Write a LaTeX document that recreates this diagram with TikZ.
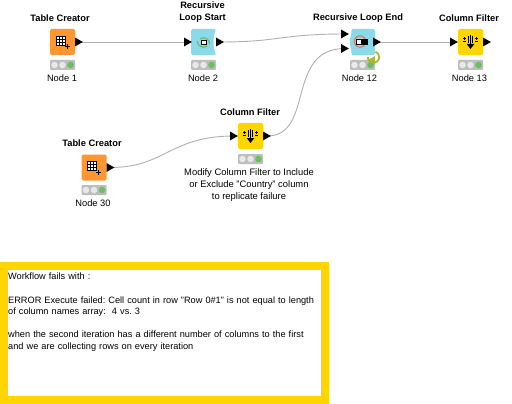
\documentclass[tikz,border=0pt]{standalone}
\usepackage{fontspec}
\setmainfont{Liberation Sans}
\usepackage{tikz}
\usetikzlibrary{arrows.meta, positioning, calc}
\definecolor{creatorcol}{HTML}{FF9632}
\definecolor{loopcol}{HTML}{8BDAEA}
\definecolor{filtercol}{HTML}{FFD500}
\definecolor{statuscol}{HTML}{BDBDBD}
\definecolor{lampcol}{HTML}{E8E8E8}
\definecolor{okcol}{HTML}{6CBF60}
\definecolor{wirecol}{HTML}{B0B0B0}
\definecolor{ringcol}{HTML}{E07070}
\definecolor{recursecol}{HTML}{A5BB35}
\tikzset{
  iconbox/.style={
    rectangle, rounded corners=1.5pt, minimum width=25pt, minimum height=26pt,
    inner sep=0pt, outer sep=0pt
  },
  statusbox/.style={
    rectangle, rounded corners=1pt, fill=statuscol, minimum width=25pt,
    minimum height=10pt, inner sep=0pt
  },
  lamp/.style={circle, fill=lampcol, minimum size=6.6pt, inner sep=0pt},
  lampok/.style={circle, fill=okcol, minimum size=6.6pt, inner sep=0pt},
  titlelabel/.style={
    font=\fontsize{9.3}{11.5}\selectfont\bfseries, align=center, inner sep=0pt
  },
  namelabel/.style={font=\fontsize{9.3}{11.5}\selectfont, inner sep=0pt},
  wire/.style={wirecol, line width=0.9pt},
  glyph/.style={black, line width=0.6pt},
}
\newcommand{\porttriangle}[1]{%
  \fill (#1) ++(-3.9,-4.4) -- ++(7.8,4.4) -- ++(-7.8,4.4) -- cycle;}
\begin{document}
\begin{tikzpicture}[x=1pt, y=-1pt]
  \useasboundingbox (0,0) rectangle (512,404);

  % ── Icons ──────────────────────────────────────────────────────
  \node[iconbox, fill=creatorcol] (creatorA) at (62.5, 42) {};
  \node[iconbox, fill=loopcol] (loopstart) at (203.5, 42) {};
  \node[iconbox, fill=loopcol] (loopend) at (362.5, 42) {};
  \node[iconbox, fill=filtercol] (filterB) at (470.5, 42) {};
  \node[iconbox, fill=filtercol] (filterA) at (250.5, 136) {};
  \node[iconbox, fill=creatorcol] (creatorB) at (94, 167.5) {};

  % notches of the loop icons
  \fill[white] (216.5,28.5) -- (216.5,55.5)
    .. controls (212.5,47) and (212.5,37) .. (216.5,28.5) -- cycle;
  \fill[white] (349.5,28.5) -- (352,28.5) -- (349.5,42) -- (352,55.5)
    -- (349.5,55.5) -- cycle;

  % ── Ports ──────────────────────────────────────────────────────
  \coordinate (creatorAout) at (79, 42);
  \coordinate (startin) at (188, 42);
  \coordinate (startout) at (220, 42);
  \coordinate (endinA) at (345, 34);
  \coordinate (endinB) at (345, 48.5);
  \coordinate (endout) at (377, 42);
  \coordinate (filterBin) at (454, 42);
  \coordinate (filterBout) at (487, 42);
  \coordinate (creatorBout) at (110.5, 167.5);
  \coordinate (filterAin) at (234, 136);
  \coordinate (filterAout) at (267, 136);

  % ── Connectors ─────────────────────────────────────────────────
  \draw[wire] (creatorAout) -- (startin);
  \draw[wire] (startout) .. controls (280,42) and (280,34) .. (endinA);
  \draw[wire] (endout) -- (filterBin);
  \draw[wire] (creatorBout) .. controls (165,167.5) and (170,136) .. (filterAin);
  \draw[wire] (filterAout) .. controls (315,136) and (285,48.5) .. (endinB);

  \foreach \portname in {creatorAout, startin, startout, endinA, endinB,
    endout, filterBin, filterBout, creatorBout, filterAin, filterAout}
    {\porttriangle{\portname}}

  % ── Status lights ──────────────────────────────────────────────
  \node[statusbox] (statusA) at (62.5, 65) {};
  \node[statusbox] (statusB) at (203.5, 65) {};
  \node[statusbox] (statusC) at (362.5, 65) {};
  \node[statusbox] (statusD) at (470.5, 65) {};
  \node[statusbox] (statusE) at (250.5, 159) {};
  \node[statusbox] (statusF) at (94, 190) {};
  \foreach \statusname in {statusA, statusB, statusC, statusD, statusE, statusF}{
    \node[lamp] at ($(\statusname)+(-8,0)$) {};
    \node[lamp] at (\statusname) {};
    \node[lampok] at ($(\statusname)+(8,0)$) {};
  }

  % ── Glyphs: table with plus ────────────────────────────────────
  \foreach \iconname in {creatorA, creatorB}{
    \draw[black, fill=white, line width=0.5pt]
      ($(\iconname)+(-6.5,-6)$) rectangle ($(\iconname)+(2.5,3)$);
    \draw[black, line width=0.45pt]
      ($(\iconname)+(-6.5,-3)$) -- ($(\iconname)+(2.5,-3)$)
      ($(\iconname)+(-6.5,0)$) -- ($(\iconname)+(2.5,0)$)
      ($(\iconname)+(-3.5,-6)$) -- ($(\iconname)+(-3.5,3)$)
      ($(\iconname)+(-0.5,-6)$) -- ($(\iconname)+(-0.5,3)$);
    \draw[black, line width=1pt]
      ($(\iconname)+(2,4.7)$) -- ($(\iconname)+(7,4.7)$)
      ($(\iconname)+(4.5,2.2)$) -- ($(\iconname)+(4.5,7.2)$);
  }

  % ── Glyphs: column filter ──────────────────────────────────────
  \foreach \iconname in {filterA, filterB}{
    \draw[glyph]
      ($(\iconname)+(-2.2,-6)$) -- ($(\iconname)+(-2.2,1)$)
      ($(\iconname)+(2.2,-6)$) -- ($(\iconname)+(2.2,1)$)
      ($(\iconname)+(-6,-5)$) -- ($(\iconname)+(-6,-1.5)$)
      ($(\iconname)+(6,-5)$) -- ($(\iconname)+(6,-1.5)$)
      ($(\iconname)+(-7.5,-3.2)$) -- ($(\iconname)+(-4.5,-3.2)$)
      ($(\iconname)+(-7.5,-0.5)$) -- ($(\iconname)+(-4.5,-0.5)$)
      ($(\iconname)+(4.5,-3.2)$) -- ($(\iconname)+(7.5,-3.2)$)
      ($(\iconname)+(4.5,-0.5)$) -- ($(\iconname)+(7.5,-0.5)$);
    \draw[black, line width=1pt] ($(\iconname)+(0,-6.5)$) -- ($(\iconname)+(0,3)$);
    \fill ($(\iconname)+(-3.8,2)$) -- ($(\iconname)+(3.8,2)$) -- ($(\iconname)+(0,7)$) -- cycle;
  }

  % ── Glyphs: loop icons ─────────────────────────────────────────
  \draw[okcol, line width=1.2pt] (197.3,41) arc[start angle=180, end angle=55, radius=6.2];
  \draw[okcol, line width=1.2pt] (209.7,44) arc[start angle=0, end angle=-125, radius=6.2];
  \draw[black, fill=white, line width=0.7pt] (201,40) rectangle (206,44.5);

  \draw[ringcol, line width=1.1pt] (360,41.5) circle[radius=5.7];
  \draw[black, fill=white, line width=0.6pt] (356,39) rectangle (361.5,44.5);
  \fill (361.5,38.7) rectangle (367.5,44.8);

  % loop arrow at the end node
  \draw[recursecol, line width=1.8pt]
    (367.8,57) arc[start angle=180, end angle=-70, radius=5.7];
  \fill[recursecol] (368,60) -- (375,56) -- (375,64.5) -- cycle;

  % ── Labels ─────────────────────────────────────────────────────
  \node[titlelabel] (titleA) at (60, 18) {Table Creator};
  \node[titlelabel] (titleB) at (202.5, 12) {Recursive\\Loop Start};
  \node[titlelabel] (titleC) at (358, 18) {Recursive Loop End};
  \node[titlelabel] (titleD) at (469, 18) {Column Filter};
  \node[titlelabel] (titleE) at (250, 112) {Column Filter};
  \node[titlelabel] (titleF) at (92, 143) {Table Creator};
  \node[namelabel] (nameA) at (62, 78.5) {Node 1};
  \node[namelabel] (nameB) at (203, 78.5) {Node 2};
  \node[namelabel] (nameC) at (359.5, 78.5) {Node 12};
  \node[namelabel] (nameD) at (469.5, 78.5) {Node 13};
  \node[namelabel] (nameF) at (93, 203.5) {Node 30};
  \node[namelabel, align=center, font=\fontsize{9.4}{12}\selectfont] (comment)
    at (249, 185.5)
    {Modify Column Filter to Include\\or Exclude "Country" column\\to replicate failure};

  % ── Annotation ─────────────────────────────────────────────────
  \node[draw=filtercol, line width=8pt, fill=white, rectangle, inner sep=0pt,
        minimum width=321pt, minimum height=134pt] (noteframe) at (164.5, 333) {};
  \node[anchor=north west, inner sep=0pt, align=left, text width=312pt,
        font=\fontsize{9.2}{11.6}\selectfont\frenchspacing] (notetext) at (8, 273)
    {Workflow fails with :\\[11.6pt]
     ERROR Execute failed: Cell count in row "Row 0\#1" is not equal to length\\
     of column names array:\ \ 4 vs. 3\\[11.6pt]
     when the second iteration has a different number of columns to the first\\
     and we are collecting rows on every iteration};
\end{tikzpicture}
\end{document}
